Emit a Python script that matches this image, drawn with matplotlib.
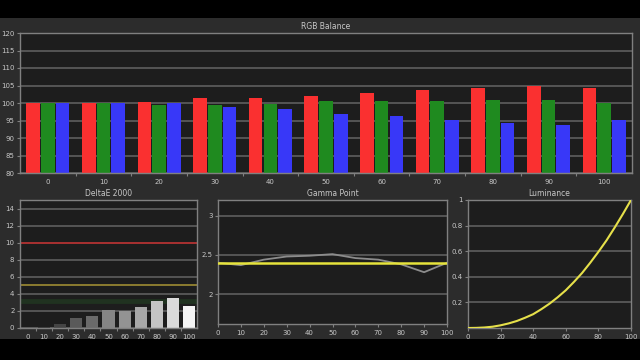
import matplotlib

matplotlib.use("Agg")
import matplotlib.pyplot as plt
from matplotlib.patches import Rectangle
import numpy as np

# RGB balance (%) per stimulus level
levels = ["0", "10", "20", "30", "40", "50", "60", "70", "80", "90", "100"]
red = [100.0, 100.0, 100.3, 101.4, 101.3, 102.0, 102.8, 103.6, 104.4, 105.0, 104.2]
green = [100.0, 99.9, 99.5, 99.4, 99.8, 100.6, 100.6, 100.6, 100.9, 100.9, 100.0]
blue = [100.0, 99.9, 100.0, 98.9, 98.3, 96.9, 96.4, 95.2, 94.3, 93.8, 95.2]

# DeltaE 2000 per stimulus level
delta_e = [0.02, 0.06, 0.45, 1.2, 1.4, 2.1, 1.95, 2.5, 3.2, 3.5, 2.6]
delta_shade = ["#2a2a2a", "#303030", "#444444", "#5a5a5a", "#6a6a6a", "#858585",
               "#939393", "#a8a8a8", "#c4c4c4", "#dadada", "#f4f4f4"]

# gamma point
gamma_x = [0, 10, 20, 30, 40, 50, 60, 70, 80, 90, 100]
gamma_y = [2.40, 2.37, 2.44, 2.48, 2.49, 2.51, 2.46, 2.44, 2.38, 2.28, 2.40]
gamma_target = 2.4

# luminance
lum_x = [0, 5, 10, 15, 20, 25, 30, 35, 40, 45, 50, 55, 60, 65, 70, 75, 80, 85, 90, 95, 100]
lum_y = [0, 0.001, 0.004, 0.010, 0.021, 0.036, 0.055, 0.080, 0.108, 0.147, 0.19, 0.24,
         0.295, 0.36, 0.43, 0.51, 0.595, 0.685, 0.785, 0.89, 1.0]

BG = "#2c2c2c"
FACE = "#1d1d1d"
GRID = "#5e5e5e"
SPINE = "#808080"
TXT = "#c8c8c8"
W, H = 640, 360


def px_axes(fig, left, top, right, bottom):
    return fig.add_axes([left / W, 1 - bottom / H, (right - left) / W, (bottom - top) / H])


def style(ax, title):
    ax.set_facecolor(FACE)
    for s in ax.spines.values():
        s.set_color(SPINE)
        s.set_linewidth(1.0)
    ax.tick_params(colors=SPINE, labelcolor=TXT, labelsize=5, length=2, width=0.8, pad=2)
    ax.tick_params(which="minor", colors=SPINE, length=2, width=0.8)
    ax.set_axisbelow(True)
    ax.set_title(title, color=TXT, fontsize=5.5, pad=3)


fig = plt.figure(figsize=(6.4, 3.6), dpi=100, facecolor="black")
fig.patches.append(Rectangle((0, 21 / H), 1, 321 / H, transform=fig.transFigure,
                             facecolor=BG, edgecolor="none", zorder=-5))

# RGB balance
ax = px_axes(fig, 20, 33, 632, 173)
style(ax, "RGB Balance")
x = np.arange(len(levels)) + 0.5
ax.bar(x - 0.265, red, width=0.245, color="#fa3030", zorder=2)
ax.bar(x, green, width=0.245, color="#1f8a1f", zorder=2)
ax.bar(x + 0.265, blue, width=0.245, color="#3838f8", zorder=2)
ax.set_xlim(0, len(levels))
ax.set_ylim(80, 120)
ax.set_yticks(range(80, 121, 5))
ax.set_xticks(x)
ax.set_xticklabels(levels)
ax.set_xticks(np.arange(1, len(levels)), minor=True)
ax.tick_params(axis="x", which="major", length=0, pad=4)
ax.grid(axis="y", color=GRID, linewidth=1.2)

# DeltaE 2000
ax = px_axes(fig, 20, 200, 197, 328)
style(ax, "DeltaE 2000")
x = np.arange(len(levels)) + 0.5
ax.bar(x, delta_e, width=0.75, color=delta_shade, zorder=2)
ax.axhline(10, color="#a83030", linewidth=1.4, zorder=1)
ax.axhline(5, color="#8c7c30", linewidth=1.4, zorder=1)
ax.axhline(3.2, color="#203220", linewidth=3.5, zorder=1)
ax.set_xlim(0, len(levels))
ax.set_ylim(0, 15)
ax.set_yticks(range(0, 15, 2))
ax.set_xticks(x)
ax.set_xticklabels(levels)
ax.set_xticks(np.arange(1, len(levels)), minor=True)
ax.tick_params(axis="x", which="major", length=0, pad=4)
ax.grid(axis="y", color=GRID, linewidth=1.2)

# Gamma point
ax = px_axes(fig, 218, 200, 447, 324)
style(ax, "Gamma Point")
ax.plot(gamma_x, gamma_y, color="#8c8c8c", linewidth=1.3, zorder=2)
ax.axhline(gamma_target, color="#e6e33c", linewidth=1.8, zorder=3)
ax.set_xlim(0, 100)
ax.set_ylim(1.62, 3.2)
ax.set_yticks([2, 2.5, 3])
ax.set_yticklabels(["2", "2.5", "3"])
ax.set_xticks(range(0, 101, 10))
ax.grid(axis="y", color=GRID, linewidth=1.2)

# Luminance
ax = px_axes(fig, 468, 200, 631, 328)
style(ax, "Luminance")
ax.plot(lum_x, lum_y, color="#e6e04a", linewidth=1.5, zorder=3)
ax.set_xlim(0, 100)
ax.set_ylim(0, 1)
ax.set_yticks([0.2, 0.4, 0.6, 0.8, 1.0])
ax.set_yticklabels(["0.2", "0.4", "0.6", "0.8", "1"])
ax.set_xticks(range(0, 101, 20))
ax.grid(axis="y", color=GRID, linewidth=1.2)

fig.savefig("out.png", dpi=100, facecolor=fig.get_facecolor())
plt.close(fig)
